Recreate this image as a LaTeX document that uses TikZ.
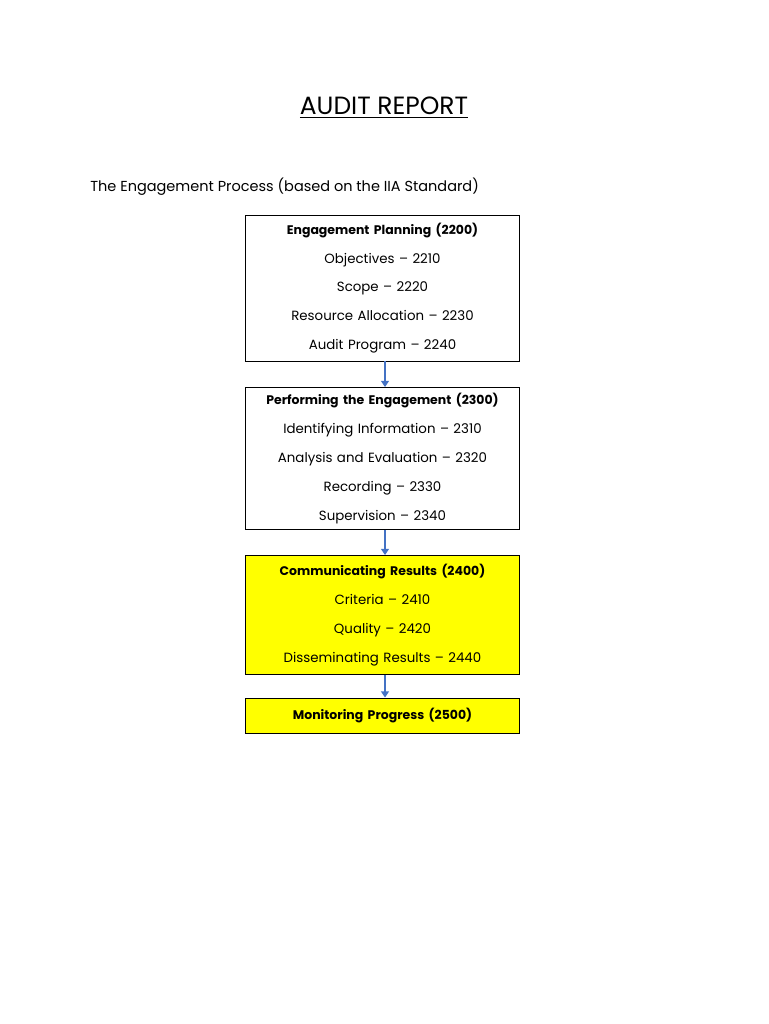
\documentclass[tikz,border=0pt]{standalone}
\usepackage{fontspec}
\setmainfont{Poppins}
\usetikzlibrary{arrows.meta}
\definecolor{linkblue}{HTML}{4472C4}
\definecolor{hilite}{HTML}{FFFF00}

\begin{document}
\begin{tikzpicture}[x=0.02cm,y=-0.02cm]
\tikzstyle{stage}=[draw,line width=0.55pt,inner sep=0pt,minimum width=5.5cm,text width=5.4cm,align=center,font=\fontsize{7.6}{16.4}\selectfont]
\tikzstyle{done}=[stage,fill=white]
\tikzstyle{todo}=[stage,fill=hilite]
\tikzstyle{flow}=[-{Triangle[length=3.5pt,width=4.5pt]},linkblue,line width=0.8pt]
\newcommand{\stagehead}[1]{{\fontsize{7.1}{16.4}\selectfont\textbf{#1}}}
\useasboundingbox (0,0) rectangle (768,1024);
\node (title) at (384,108) {\fontsize{14.2}{18}\selectfont\underline{AUDIT REPORT}};
\node[anchor=west,inner sep=0pt] (intro) at (90,187) {\fontsize{8.25}{10}\selectfont The Engagement Process (based on the IIA Standard)};
\node[done,minimum height=2.92cm] (plan) at (382.5,288) {\stagehead{Engagement Planning (2200)}\\ Objectives -- 2210\\ Scope -- 2220\\ Resource Allocation -- 2230\\ Audit Program -- 2240};
\node[done,minimum height=2.84cm] (perform) at (382.5,458.5) {\stagehead{Performing the Engagement (2300)}\\ Identifying Information -- 2310\\ Analysis and Evaluation -- 2320\\ Recording -- 2330\\ Supervision -- 2340};
\node[todo,minimum height=2.38cm] (communicate) at (382.5,615) {\stagehead{Communicating Results (2400)}\\ Criteria -- 2410\\ Quality -- 2420\\ Disseminating Results -- 2440};
\node[todo,minimum height=0.7cm] (monitor) at (382.5,715.5) {\stagehead{Monitoring Progress (2500)}};
\draw[flow] ([xshift=2.5*0.02cm]plan.south) -- ([xshift=2.5*0.02cm]perform.north);
\draw[flow] ([xshift=2.5*0.02cm]perform.south) -- ([xshift=2.5*0.02cm]communicate.north);
\draw[flow] ([xshift=2.5*0.02cm]communicate.south) -- ([xshift=2.5*0.02cm]monitor.north);
\end{tikzpicture}
\end{document}
